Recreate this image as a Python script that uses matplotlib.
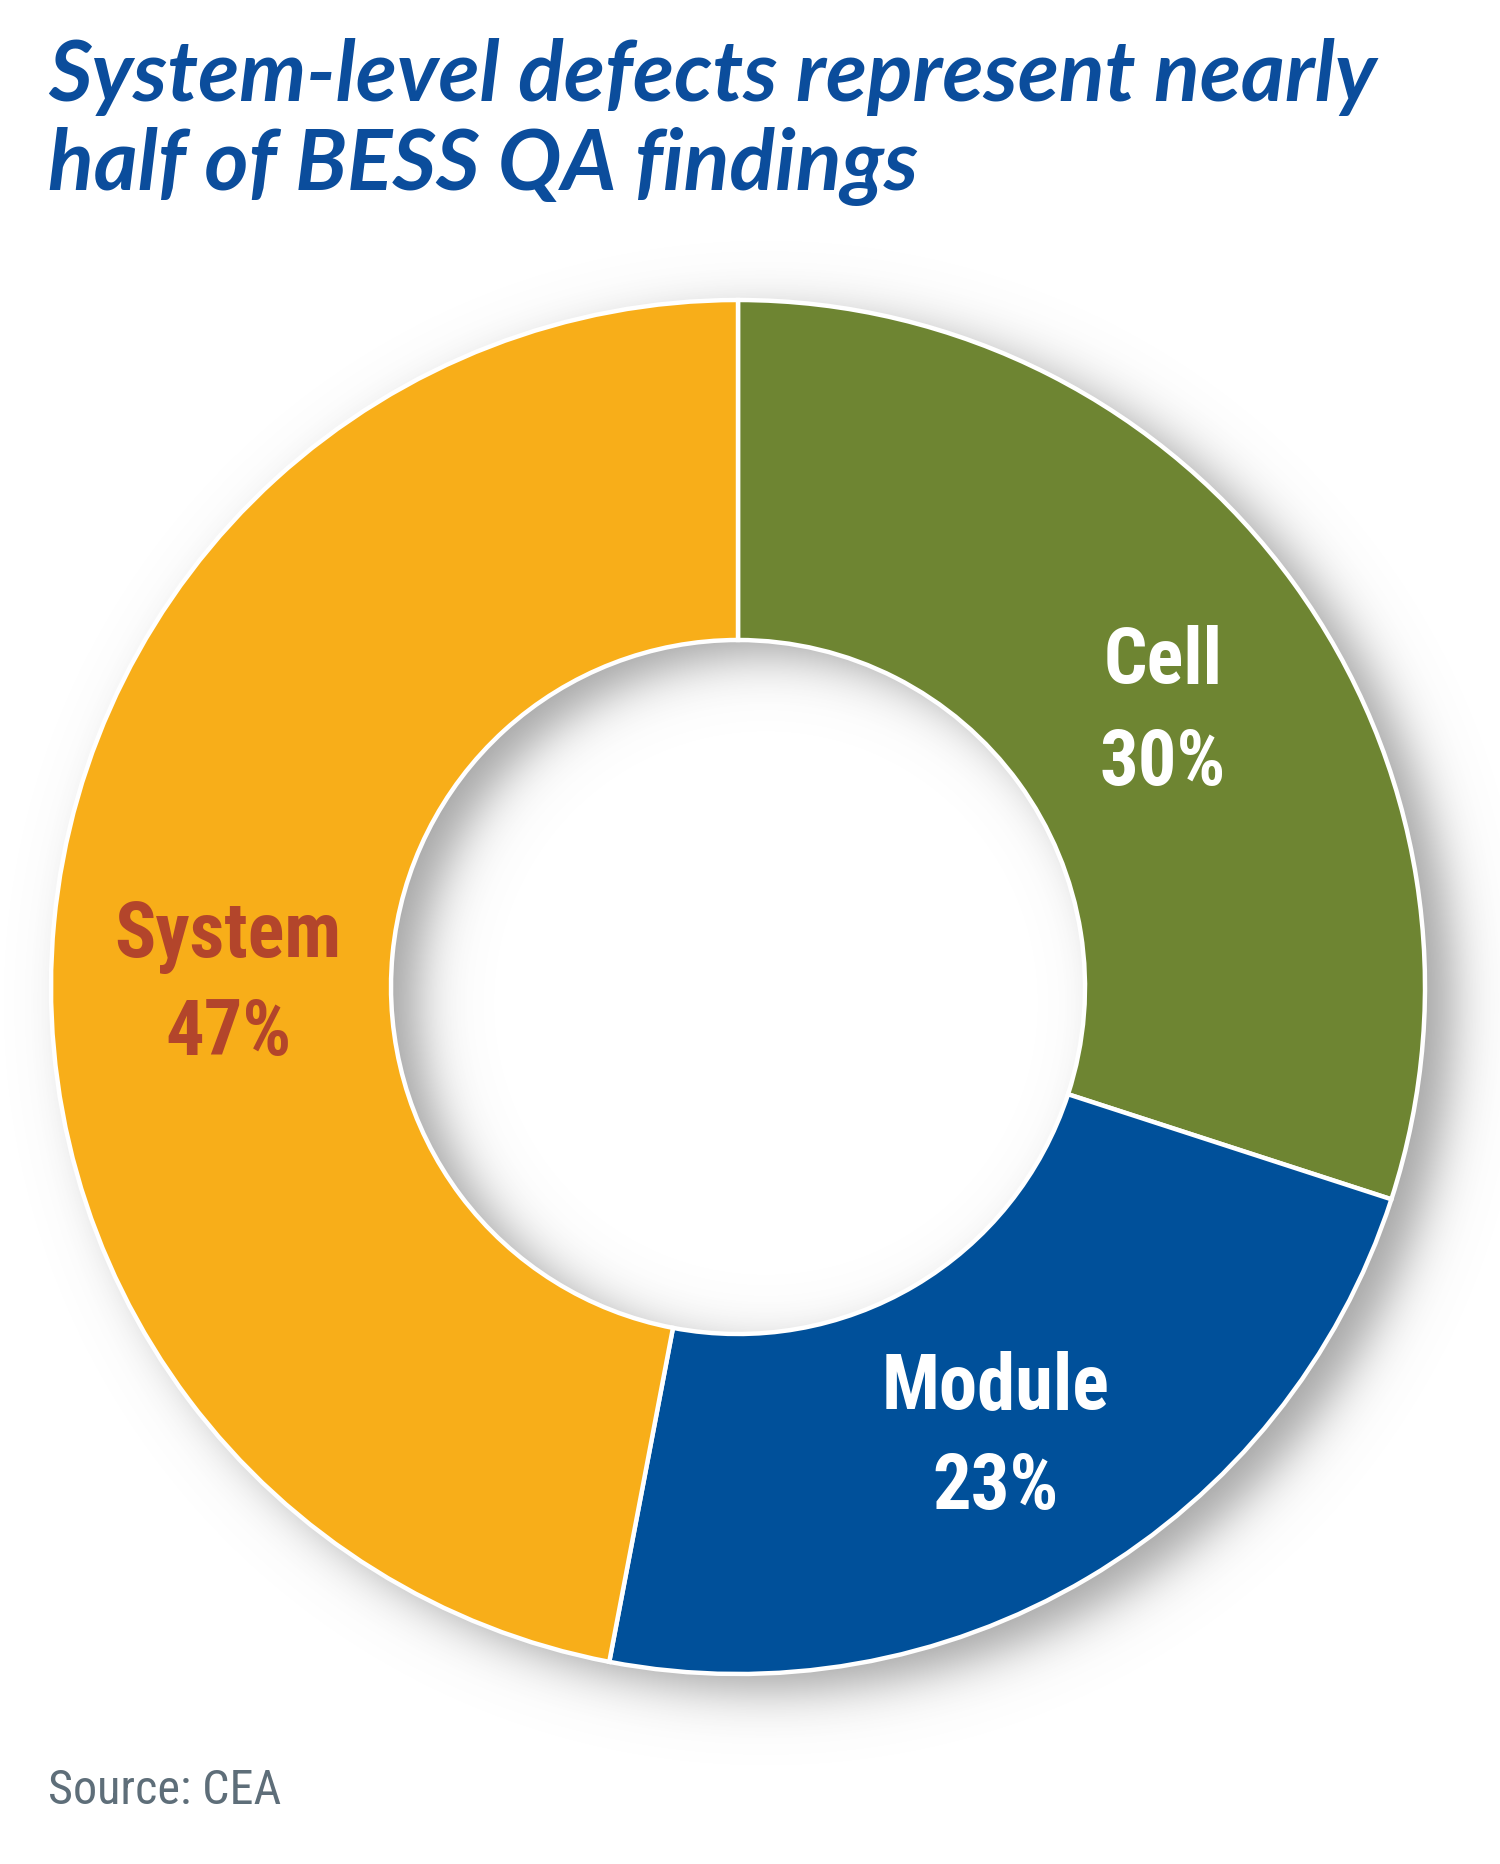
import numpy as np
import matplotlib
matplotlib.use("Agg")
import matplotlib.pyplot as plt
from matplotlib import font_manager as fm
from matplotlib.font_manager import FontProperties

# ---- data ----
categories = ["Cell", "Module", "System"]
shares = [30, 23, 47]
colors = ["#6e8532", "#00509a", "#f8ae19"]
label_colors = ["white", "white", "#b3452b"]

title_lines = ["System-level defects represent nearly", "half of BESS QA findings"]
source = "Source: CEA"

# ---- canvas (pixel coordinates, y up) ----
W, H = 1500, 1864
cx, cy = 738, H - 987
R_out, R_in = 687, 347


def pick_font(keys, bold):
    # look for a narrow/condensed face among installed files
    files = [f.fname for f in fm.fontManager.ttflist]
    for k in keys:
        for fn in files:
            base = fn.split("/")[-1]
            if k not in base or "Italic" in base or "Oblique" in base:
                continue
            if bold and "Bold" in base and "Semi" not in base and "Extra" not in base.replace(k, ""):
                return fn
            if not bold and "Bold" not in base and "Light" not in base and "Thin" not in base \
                    and "Medium" not in base and "Black" not in base:
                return fn
    return None


keys = ["LiberationSansNarrow", "NotoSans-Condensed", "NotoSans_Condensed", "OpenSans-Condensed",
        "OpenSans_Condensed", "RobotoCondensed", "DejaVuSansCondensed"]
f_bold = pick_font(keys, True)
f_reg = pick_font(keys, False)
lab_fp = FontProperties(fname=f_bold) if f_bold else FontProperties(family="DejaVu Sans", weight="bold")
src_fp = FontProperties(fname=f_reg) if f_reg else FontProperties(family="DejaVu Sans")

names = {f.name for f in fm.fontManager.ttflist}
title_font = "Lato" if "Lato" in names else "DejaVu Sans"

fig = plt.figure(figsize=(W / 100, H / 100), dpi=100)
ax = fig.add_axes([0, 0, 1, 1])

# soft drop shadow of the ring, cast toward the right and down
yy, xx = np.mgrid[0:H, 0:W] + 0.5
d = np.hypot(xx - (cx + 28), (H - yy) - (cy - 16))
s = 15.0
inside_out = 1 / (1 + np.exp((d - R_out) / s))
inside_in = 1 / (1 + np.exp((d - R_in) / s))
shadow = np.zeros((H, W, 4))
shadow[..., :3] = 0.40
shadow[..., 3] = 0.6 * inside_out * (1 - inside_in)
ax.imshow(shadow, extent=(0, W, 0, H), origin="upper", zorder=1, interpolation="bilinear")

wedges, _ = ax.pie(shares, colors=colors, startangle=90, counterclock=False,
                   radius=R_out, center=(cx, cy), frame=True,
                   wedgeprops=dict(width=R_out - R_in, edgecolor="white", linewidth=3.2))
for w in wedges:
    w.set_zorder(2)

# slice labels
label_pos = [(1163, 683, 785), (996, 1408, 1509), (228, 957, 1055)]
texts = []
for cat, val, col, (x, y1, y2) in zip(categories, shares, label_colors, label_pos):
    texts.append(ax.text(x, H - y1, cat, ha="center", va="baseline", fontproperties=lab_fp,
                         fontsize=55, color=col, zorder=3))
    texts.append(ax.text(x, H - y2, f"{val}%", ha="center", va="baseline", fontproperties=lab_fp,
                         fontsize=55, color=col, zorder=3))

# title
t1 = ax.text(48, H - 101, title_lines[0], ha="left", va="baseline", fontsize=56,
             fontweight="bold", fontstyle="italic", family=[title_font, "DejaVu Sans"],
             color="#0b4d9c", zorder=3)
t2 = ax.text(48, H - 190, title_lines[1], ha="left", va="baseline", fontsize=56,
             fontweight="bold", fontstyle="italic", family=[title_font, "DejaVu Sans"],
             color="#0b4d9c", zorder=3)

src = ax.text(48, H - 1804, source, ha="left", va="baseline", fontproperties=src_fp,
              fontsize=40, color="#5e6e79", zorder=3)

# size text to the reference widths
fig.canvas.draw()
t_size = 56 * 1329 / t1.get_window_extent().width
t1.set_fontsize(t_size)
t2.set_fontsize(t_size)
l_size = min(72, 55 * 228 / texts[2].get_window_extent().width)
for t in texts:
    t.set_fontsize(l_size)
src.set_fontsize(min(44, 40 * 233 / src.get_window_extent().width))

ax.set_xlim(0, W)
ax.set_ylim(0, H)
ax.set_aspect("equal")
ax.axis("off")

fig.savefig("out.png", dpi=100, facecolor="white")
